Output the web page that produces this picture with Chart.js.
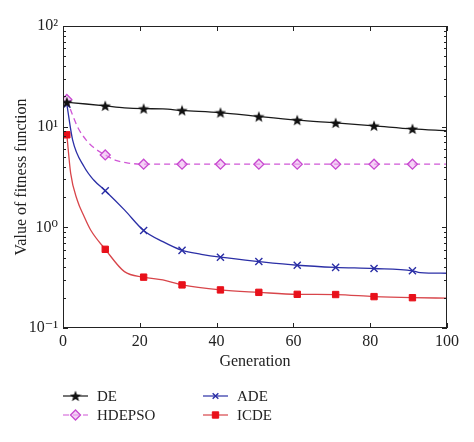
<!DOCTYPE html>
<html>
<head>
<meta charset="utf-8">
<script src="https://cdn.jsdelivr.net/npm/chart.js@4/dist/chart.umd.min.js"></script>
<style>
  html, body { margin: 0; padding: 0; background: #fff; }
  #wrap { width: 474px; height: 442px; }
</style>
</head>
<body>
<div id="wrap"><canvas id="fitness" width="474" height="442"></canvas></div>
<script>
// values (generation -> fitness)
const deGen = [1, 6, 11, 16, 21, 26, 31, 41, 51, 61, 71, 81, 91, 100];
const deVal = [17.5, 16.8, 16.1, 15.4, 15.1, 15.0, 14.5, 13.8, 12.6, 11.6, 10.9, 10.2, 9.5, 9.1];

const hdepsoGen = [1, 2.5, 4, 6, 8, 11, 14, 17, 21, 31, 41, 51, 61, 71, 81, 91, 100];
const hdepsoVal = [18.6, 13, 9.6, 7.4, 6.2, 5.24, 4.6, 4.35, 4.24, 4.24, 4.24, 4.24, 4.24, 4.24, 4.24, 4.24, 4.24];

const adeGen = [1, 2.5, 5.5, 8, 11, 16, 21, 26, 31, 36, 41, 51, 61, 71, 81, 91, 93, 100];
const adeVal = [16.7, 7.4, 4.0, 2.95, 2.31, 1.49, 0.93, 0.72, 0.59, 0.54, 0.505, 0.457, 0.42, 0.40, 0.39, 0.37, 0.355, 0.35];

const icdeGen = [1, 2, 3.7, 5.5, 7.2, 11, 16, 21, 26, 31, 41, 51, 61, 71, 81, 91, 100];
const icdeVal = [8.3, 3.44, 1.87, 1.28, 0.94, 0.605, 0.363, 0.32, 0.30, 0.268, 0.239, 0.226, 0.216, 0.215, 0.205, 0.20, 0.198];

const markerGens = [1, 11, 21, 31, 41, 51, 61, 71, 81, 91];
const xTicks = [0, 20, 40, 60, 80, 100];
const yDecades = [0.1, 1, 10, 100];
const yTickLabels = ["10\u207B\u00B9", "10\u2070", "10\u00B9", "10\u00B2"];

const serif = "'Liberation Serif', 'DejaVu Serif', serif";

function toPoints(gens, vals) {
  return gens.map((g, i) => ({ x: g, y: vals[i] }));
}

// filled five point star for DE
function makeStar(size, color) {
  const c = document.createElement("canvas");
  c.width = size; c.height = size;
  const g = c.getContext("2d");
  const cx = size / 2, cy = size / 2 + 0.5, R = size / 2, r = R * 0.42;
  g.beginPath();
  for (let i = 0; i < 10; i++) {
    const rad = i % 2 === 0 ? R : r;
    const a = -Math.PI / 2 + i * Math.PI / 5;
    g.lineTo(cx + rad * Math.cos(a), cy + rad * Math.sin(a));
  }
  g.closePath();
  g.fillStyle = color;
  g.fill();
  return c;
}
const starImg = makeStar(12, "#111");

function markerRadius(r) {
  return ctx => (ctx.raw && markerGens.includes(ctx.raw.x) ? r : 0);
}

// inward ticks on all four sides, like the original frame
const frameTicks = {
  id: "frameTicks",
  afterDatasetsDraw(chart) {
    const { ctx, chartArea: a, scales } = chart;
    const x = scales.x, y = scales.y;
    ctx.save();
    ctx.strokeStyle = "#222";
    ctx.lineWidth = 1;
    ctx.strokeRect(a.left + 0.5, a.top + 0.5, a.right - a.left - 1, a.bottom - a.top - 1);
    ctx.beginPath();
    xTicks.forEach(v => {
      const px = Math.round(x.getPixelForValue(v)) + 0.5;
      ctx.moveTo(px, a.bottom); ctx.lineTo(px, a.bottom - 5);
      ctx.moveTo(px, a.top); ctx.lineTo(px, a.top + 5);
    });
    yDecades.forEach((d, k) => {
      for (let m = 1; m <= 9; m++) {
        if (m > 1 && k === yDecades.length - 1) break;
        const py = Math.round(y.getPixelForValue(d * m)) + 0.5;
        const len = m === 1 ? 5 : 3;
        ctx.moveTo(a.left, py); ctx.lineTo(a.left + len, py);
        ctx.moveTo(a.right, py); ctx.lineTo(a.right - len, py);
      }
    });
    ctx.stroke();
    ctx.restore();
  }
};

// legend below the plot: line sample + marker, two columns
const bottomLegend = {
  id: "bottomLegend",
  afterDraw(chart) {
    const { ctx } = chart;
    const slots = [
      { i: 0, x: 63, y: 396 },
      { i: 1, x: 63, y: 415 },
      { i: 2, x: 203, y: 396 },
      { i: 3, x: 203, y: 415 }
    ];
    ctx.save();
    slots.forEach(s => {
      const ds = chart.data.datasets[s.i];
      ctx.beginPath();
      ctx.setLineDash(ds.borderDash || []);
      ctx.strokeStyle = ds.borderColor;
      ctx.lineWidth = 1.2;
      ctx.moveTo(s.x, s.y); ctx.lineTo(s.x + 25, s.y);
      ctx.stroke();
      ctx.setLineDash([]);
      ctx.fillStyle = ds.pointBackgroundColor;
      ctx.strokeStyle = ds.pointBorderColor;
      ctx.lineWidth = ds.pointBorderWidth || 1;
      Chart.helpers.drawPoint(ctx, {
        pointStyle: ds.pointStyle,
        radius: ds.legendRadius,
        borderWidth: ds.pointBorderWidth || 1
      }, s.x + 12.5, s.y);
      ctx.fillStyle = "#222";
      ctx.font = "15px " + serif;
      ctx.textBaseline = "middle";
      ctx.fillText(ds.label, s.x + 34, s.y + 1);
    });
    ctx.restore();
  }
};

new Chart("fitness", {
  type: "line",
  data: {
    datasets: [
      {
        label: "DE",
        data: toPoints(deGen, deVal),
        borderColor: "#1a1a1a",
        borderWidth: 1.3,
        pointStyle: starImg,
        pointRadius: markerRadius(6),
        legendRadius: 6,
        pointBackgroundColor: "#111",
        pointBorderColor: "#111"
      },
      {
        label: "HDEPSO",
        data: toPoints(hdepsoGen, hdepsoVal),
        borderColor: "#d057d6",
        borderWidth: 1.3,
        borderDash: [6, 4],
        pointStyle: "rectRot",
        pointRadius: markerRadius(5),
        legendRadius: 5,
        pointBackgroundColor: "rgba(238,180,240,0.6)",
        pointBorderColor: "#c84ad0",
        pointBorderWidth: 1.3
      },
      {
        label: "ADE",
        data: toPoints(adeGen, adeVal),
        borderColor: "#2b2fa6",
        borderWidth: 1.3,
        pointStyle: "crossRot",
        pointRadius: markerRadius(5),
        legendRadius: 4,
        pointBackgroundColor: "#2b2fa6",
        pointBorderColor: "#2b2fa6",
        pointBorderWidth: 1.4
      },
      {
        label: "ICDE",
        data: toPoints(icdeGen, icdeVal),
        borderColor: "#d8454a",
        borderWidth: 1.3,
        pointStyle: "rect",
        pointRadius: markerRadius(4.5),
        legendRadius: 4.5,
        pointBackgroundColor: "#e8101a",
        pointBorderColor: "#e8101a",
        pointBorderWidth: 1
      }
    ]
  },
  options: {
    responsive: false,
    animation: false,
    cubicInterpolationMode: "monotone",
    layout: { padding: { left: 0, top: 26, right: 27, bottom: 64 } },
    plugins: {
      legend: { display: false },
      tooltip: { enabled: false }
    },
    scales: {
      x: {
        type: "linear",
        min: 0,
        max: 100,
        border: { display: false },
        grid: { display: false, drawTicks: false },
        afterBuildTicks: s => { s.ticks = xTicks.map(v => ({ value: v })); },
        afterFit: s => { s.height = 50; },
        ticks: {
          padding: 4,
          color: "#222",
          font: { family: serif, size: 16 }
        },
        title: {
          display: true,
          text: "Generation",
          color: "#222",
          font: { family: serif, size: 16 },
          padding: { top: 0, bottom: 7 }
        }
      },
      y: {
        type: "logarithmic",
        min: 0.1,
        max: 100,
        border: { display: false },
        grid: { display: false, drawTicks: false },
        afterBuildTicks: s => { s.ticks = yDecades.map(v => ({ value: v })); },
        afterFit: s => { s.width = 63; },
        ticks: {
          padding: 5,
          color: "#222",
          font: { family: serif, size: 16 },
          callback: v => {
            const k = yDecades.indexOf(v);
            return k >= 0 ? yTickLabels[k] : "";
          }
        },
        title: {
          display: true,
          text: "Value of fitness function",
          color: "#222",
          font: { family: serif, size: 16 },
          padding: { top: 12, bottom: 0 }
        }
      }
    }
  },
  plugins: [frameTicks, bottomLegend]
});
</script>
</body>
</html>
